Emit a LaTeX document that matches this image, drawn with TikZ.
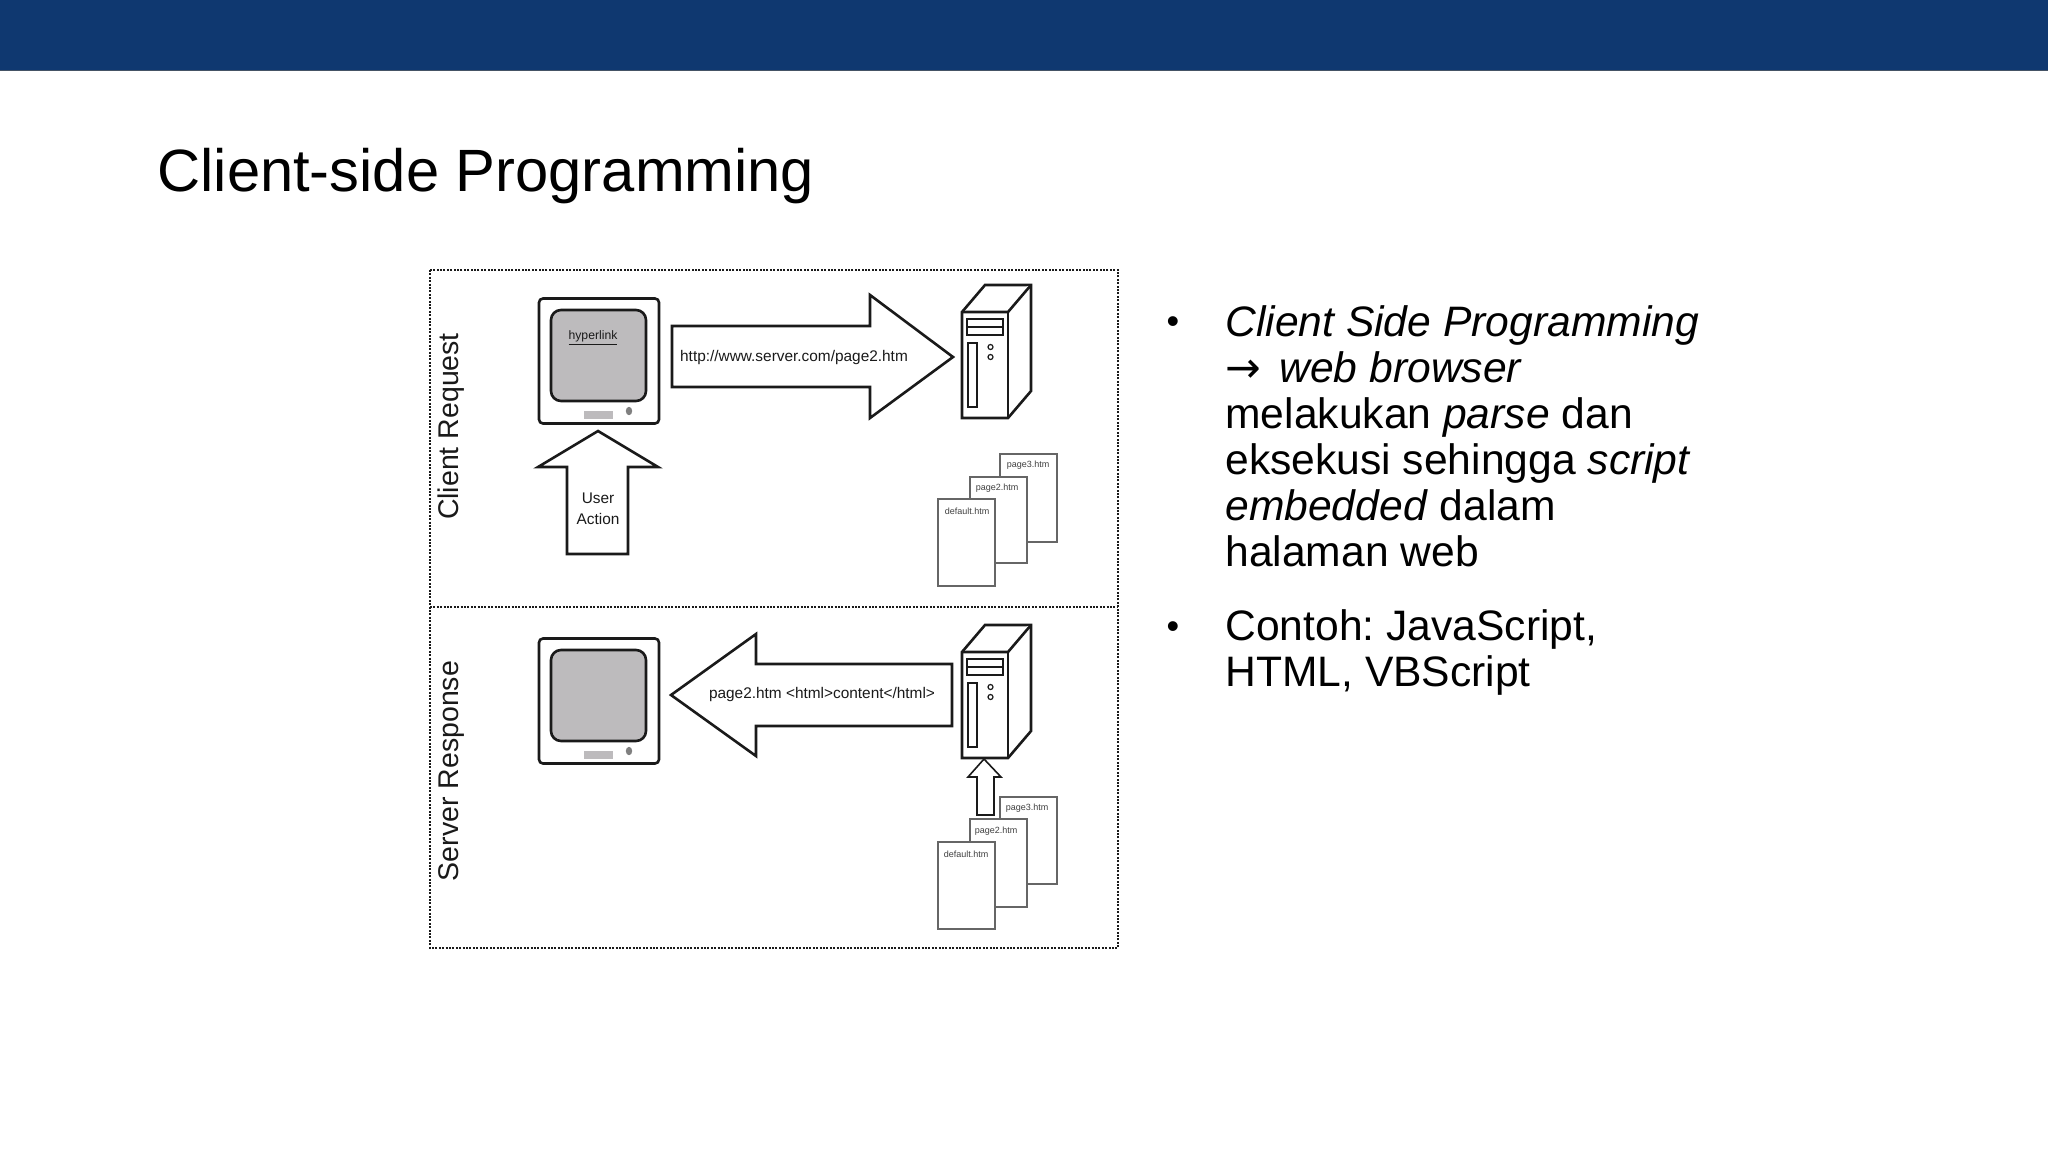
\documentclass[tikz,border=0pt]{standalone}
\usepackage{fontspec}
\setmainfont{Liberation Sans}
\newfontfamily\arrowfont{DejaVu Sans}
\definecolor{navy}{HTML}{0F3870}
\definecolor{ink}{HTML}{1A1A1A}
\definecolor{screen}{HTML}{BDBBBD}
\newcommand{\fs}[2]{\fontsize{#1pt}{#2pt}\selectfont}
\tikzset{
  x=0.5pt,y=-0.5pt,
  frame/.style={draw=ink,line width=1pt,dash pattern=on 1pt off 0.7pt},
  block/.style={draw=ink,line width=1.3pt,fill=white,line join=miter},
  thin block/.style={draw=ink,line width=0.8pt,fill=white},
  sheet/.style={draw=black!60,line width=0.7pt,fill=white},
  small/.style={font=\fs{4.5}{5.5},text=black!75,inner sep=0pt},
  label/.style={font=\fs{7.7}{10.5},text=ink,inner sep=0pt,align=center},
  side/.style={font=\fs{14.25}{16},text=ink,inner sep=0pt,rotate=90},
  bullet/.style={inner sep=0pt,font=\fs{18}{20},text=black},
  body/.style={anchor=north west,inner sep=0pt,align=left,font=\fs{21.3}{23}\frenchspacing,text=black},
  monitor/.pic={
    \draw[block,rounded corners=2pt] (1,0.5) rectangle (121,125.5);
    \draw[draw=ink,line width=1.3pt,fill=screen,rounded corners=5pt] (13,12) rectangle (108,103);
    \fill[screen] (46,113) rectangle (75,121);
    \fill[black!50] (91,113) ellipse (3.2 and 4.2);
  },
  server/.pic={
    \draw[block] (0,27) -- (23,0) -- (69,0) -- (69,106) -- (46,133) -- (0,133) -- cycle;
    \draw[block] (0,27) -- (46,27) -- (69,0);
    \draw[block] (46,27) -- (46,133);
    \draw[draw=ink,line width=0.6pt] (5,34) rectangle (41,50) (5,42) -- (41,42);
    \draw[draw=ink,line width=0.6pt] (6,58) rectangle (15,122);
    \draw[draw=ink,line width=0.6pt] (28.5,62) circle (2.5) (28.5,72) circle (2.5);
  },
}
\begin{document}
\begin{tikzpicture}
\useasboundingbox (0,0) rectangle (2048,1152);
\fill[white] (0,0) rectangle (2048,1152);
\fill[navy] (0,0) rectangle (2048,69.5);
\fill[black!55!navy!75] (0,69.5) rectangle (2048,70.5);
\node[anchor=base west,inner sep=0pt,font=\fs{29.85}{36},text=black] (title) at (157,191) {Client-side Programming};

% frames
\draw[frame] (430,270) rectangle (1118,948);
\coordinate (midL) at (430,607);
\coordinate (midR) at (1118,607);
\draw[frame] (midL) -- (midR);
\node[side] (req) at (451,426.5) {Client Request};
\node[side] (res) at (451,771) {Server Response};

% client request
\pic at (538,298) {monitor};
\node[inner sep=0pt,font=\fs{6.1}{8},text=ink] (link) at (593,338) {\underline{hyperlink}};
\draw[block] (672,326) -- (870,326) -- (870,295) -- (953,357) -- (870,418) -- (870,387) -- (672,387) -- cycle;
\node[label] (url) at (794,358) {http://www.server.com/page2.htm};
\draw[block] (598,431) -- (658,467) -- (628,467) -- (628,554) -- (567,554) -- (567,467) -- (538,467) -- cycle;
\node[label] (act) at (598,509) {User\\Action};
\pic at (962,285) {server};
\draw[sheet] (1000,454) rectangle (1057,542);
\draw[sheet] (970,477) rectangle (1027,563);
\draw[sheet] (938,499) rectangle (995,586);
\node[small] (a3) at (1028,465) {page3.htm};
\node[small] (a2) at (997,488) {page2.htm};
\node[small] (a1) at (967,511) {default.htm};

% server response
\pic at (538,638) {monitor};
\draw[block] (671,695) -- (756,634) -- (756,664) -- (952,664) -- (952,726) -- (756,726) -- (756,756) -- cycle;
\node[label] (payload) at (822,695) {page2.htm <html>content</html>};
\pic at (962,625) {server};
\draw[thin block] (984,759) -- (1001,777) -- (994,777) -- (994,815) -- (977,815) -- (977,777) -- (968,777) -- cycle;
\draw[sheet] (1000,797) rectangle (1057,884);
\draw[sheet] (970,819) rectangle (1027,907);
\draw[sheet] (938,842) rectangle (995,929);
\node[small] (b3) at (1027,808) {page3.htm};
\node[small] (b2) at (996,831) {page2.htm};
\node[small] (b1) at (966,854) {default.htm};

% bullets
\node[bullet] (d1) at (1173,325.5) {•};
\node[bullet] (d2) at (1173,630.5) {•};
\node[body] (t1) at (1225,305) {%
\textit{Client Side Programming}\\
{\arrowfont →}\hspace{3.3pt} \textit{web browser}\\
melakukan \textit{parse} dan\\
eksekusi sehingga \textit{script}\\
\textit{embedded} dalam\\
halaman web};
\node[body] (t2) at (1225,609) {%
Contoh: JavaScript,\\
HTML, VBScript};
\end{tikzpicture}
\end{document}
